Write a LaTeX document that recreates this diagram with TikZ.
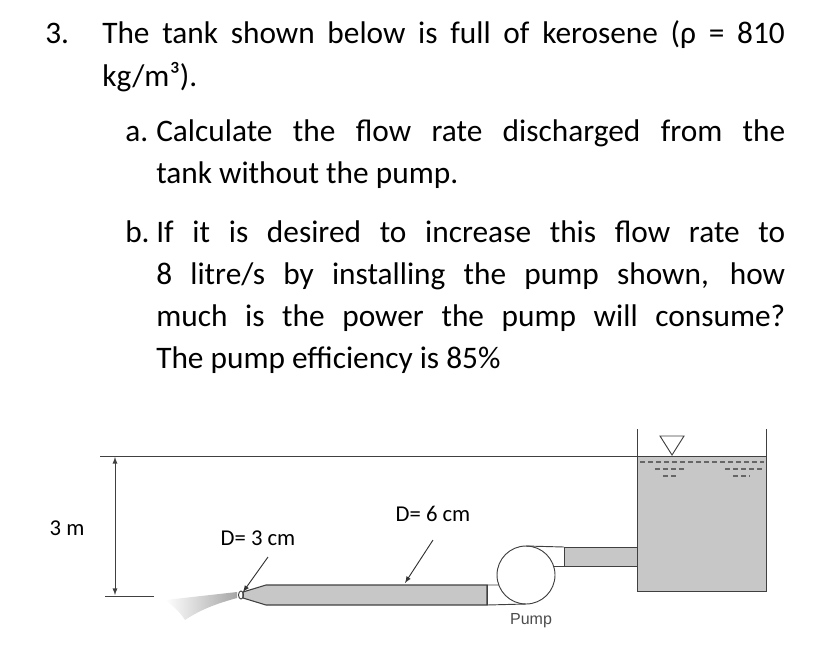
\documentclass[tikz,border=0pt]{standalone}
\usepackage{fontspec}
\setmainfont{Carlito}
\newfontfamily\arialf{Liberation Sans}
\begin{document}
\begin{tikzpicture}[x=0.75pt,y=-0.75pt,
  q/.style={anchor=base west,inner sep=0pt,font=\fontsize{23.5}{28}\selectfont},
  lbl/.style={inner sep=0pt,font=\fontsize{17}{20}\selectfont},
  pipe/.style={draw=black!75,fill=black!22,line width=0.8pt},
  ln/.style={draw=black!75,line width=0.7pt}]
\useasboundingbox (0,0) rectangle (834,660);
% question text
\node[q] (n3) at (45,44) {3.};
\node[q] (l1) at (102,44) {\makebox[512pt][s]{The tank shown below is full of kerosene (ρ = 810}};
\node[q] (l2) at (102,86) {kg/m³).};
\node[q] (na) at (125,141) {a.};
\node[q] (a1) at (156,141) {\makebox[471.75pt][s]{Calculate the flow rate discharged from the}};
\node[q] (a2) at (156,183) {tank without the pump.};
\node[q] (nb) at (125,242) {b.};
\node[q] (b1) at (156,242) {\makebox[471.75pt][s]{If it is desired to increase this flow rate to}};
\node[q] (b2) at (156,284) {\makebox[471.75pt][s]{8 litre/s by installing the pump shown, how}};
\node[q] (b3) at (156,326) {\makebox[471.75pt][s]{much is the power the pump will consume?}};
\node[q] (b4) at (156,368) {The pump efficiency is 85\%};
% spray
\shade[left color=white,right color=black!35] (165,600) -- (237,592) -- (237,598) .. controls (215,604) and (200,610) .. (185,620) .. controls (180,612) and (172,605) .. (165,600) -- cycle;
% tank water
\fill[black!22] (637,456) rectangle (766,591);
\draw[ln] (637,429) -- (637,591) -- (766,591) -- (766,429);
% outlet pipe
\fill[black!22] (564,547) rectangle (637,566);
\draw[ln] (564,547) -- (637,547) (564,566) -- (637,566) (564,547) -- (564,566);
% pump connections
\draw[ln] (526,546) -- (564,547);
\draw[ln] (553,566) -- (564,566);
\draw[ln] (487,585) -- (499,585) (487,605) -- (526,604);
% pump
\node[circle,draw=black!75,line width=0.7pt,minimum size=58pt*0.75,inner sep=0pt] (pump) at (526,575) {};
% left pipe + nozzle
\draw[pipe] (487,585) -- (266,585) -- (243,592) -- (243,598) -- (266,605) -- (487,605) -- cycle;
\draw[ln] (487,585) -- (487,605);
\draw[ln] (241,595) ellipse (2.5 and 4);
% surface line and dimension
\draw[ln] (100,456) -- (637,456) (637,456) -- (766,456);
\draw[ln] (105,596) -- (154,596);
\draw[ln,-latex] (115,526) -- (115,457);
\draw[ln,-latex] (115,526) -- (115,595);
\node[lbl] (h) at (67,528) {3 m};
% free surface symbol
\draw[ln,fill=white] (660,436) -- (684,436) -- (672,455) -- cycle;
\foreach \yy/\xa/\xb in {462/640/764,469/655/685,469/725/762,476/663/678,476/733/750}
  \draw[black!60,dash pattern=on 4pt off 2pt,line width=0.8pt] (\xa,\yy) -- (\xb,\yy);
% labels
\node[lbl] (d3) at (258,538) {D= 3 cm};
\node[lbl] (d6) at (433,514) {D= 6 cm};
\coordinate (t3) at (243,592);
\coordinate (t6) at (405,583);
\draw[black!80,line width=0.7pt,-latex] (268,557) -- (t3);
\draw[black!80,line width=0.7pt,-latex] (433,540) -- (t6);
\node[inner sep=0pt,font=\arialf\fontsize{12}{14}\selectfont,text=black!70] (pl) at (531,621) {Pump};
\end{tikzpicture}
\end{document}
